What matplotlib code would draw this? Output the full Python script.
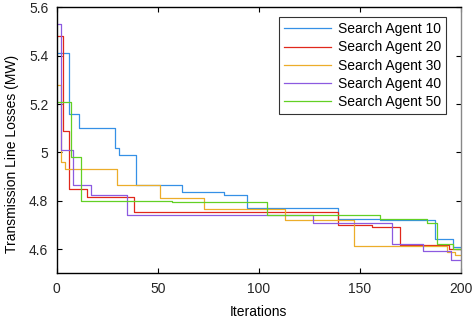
import matplotlib
matplotlib.use("Agg")
import matplotlib.pyplot as plt
from matplotlib.ticker import FormatStrFormatter

plt.rcParams["font.family"] = ["Liberation Sans", "DejaVu Sans"]

# best-so-far losses, as breakpoints (iteration, value) of each step curve
agent10_it = [0, 6, 11, 29, 31, 39, 62, 83, 94, 139, 160, 187, 196, 200]
agent10_val = [5.41, 5.16, 5.10, 5.02, 4.99, 4.865, 4.835, 4.825, 4.77, 4.725, 4.72, 4.64, 4.61, 4.60]

agent20_it = [0, 3, 6, 15, 38, 139, 156, 170, 194, 200]
agent20_val = [5.48, 5.09, 4.85, 4.815, 4.755, 4.70, 4.69, 4.615, 4.60, 4.595]

agent30_it = [0, 2, 4, 30, 51, 73, 113, 147, 193, 197, 200]
agent30_val = [5.28, 4.96, 4.93, 4.865, 4.81, 4.765, 4.72, 4.612, 4.59, 4.575, 4.575]

agent40_it = [0, 2, 8, 17, 35, 127, 166, 181, 195, 200]
agent40_val = [5.53, 5.01, 4.865, 4.825, 4.743, 4.708, 4.622, 4.594, 4.556, 4.556]

agent50_it = [0, 7, 12, 57, 104, 160, 183, 188, 196, 200]
agent50_val = [5.21, 4.98, 4.80, 4.794, 4.74, 4.725, 4.71, 4.62, 4.60, 4.60]

labels = ["Search Agent 10", "Search Agent 20", "Search Agent 30",
          "Search Agent 40", "Search Agent 50"]
colors = ["#3590e6", "#e0281c", "#ecad2a", "#8c5ae0", "#62d024"]

series = [(agent10_it, agent10_val), (agent20_it, agent20_val),
          (agent30_it, agent30_val), (agent40_it, agent40_val),
          (agent50_it, agent50_val)]

fig = plt.figure(figsize=(4.74, 3.21), dpi=100)
ax = fig.add_axes([0.1196, 0.1486, 0.853, 0.8286])

for (it, val), lab, col in zip(series, labels, colors):
    ax.plot(it, val, drawstyle="steps-post", color=col, lw=0.9, label=lab)

ax.set_xlim(0, 200)
ax.set_ylim(4.5, 5.6)
ax.set_xticks([0, 50, 100, 150, 200])
ax.set_yticks([4.6, 4.8, 5.0, 5.2, 5.4, 5.6])
ax.yaxis.set_major_formatter(FormatStrFormatter("%g"))
ax.tick_params(direction="in", top=True, right=True, length=3.5, width=0.8,
               labelsize=10, labelcolor="#262626", pad=6)
for s in ax.spines.values():
    s.set_linewidth(1.0)
    s.set_color("black")
ax.spines["right"].set_color("#888888")

ax.set_xlabel("Iterations", fontsize=10)
ax.set_ylabel("Transmission Line Losses (MW)", fontsize=10)
ax.xaxis.set_label_coords(0.5, -0.12)
ax.yaxis.set_label_coords(-0.092, 0.45)

leg = ax.legend(loc="upper right", bbox_to_anchor=(0.963, 0.962), borderaxespad=0,
                fancybox=False, edgecolor="black", fontsize=10, handlelength=3.4,
                labelspacing=0.3, borderpad=0.35, handletextpad=0.5)
leg.get_frame().set_linewidth(0.8)

fig.savefig("out.png", dpi=100)
